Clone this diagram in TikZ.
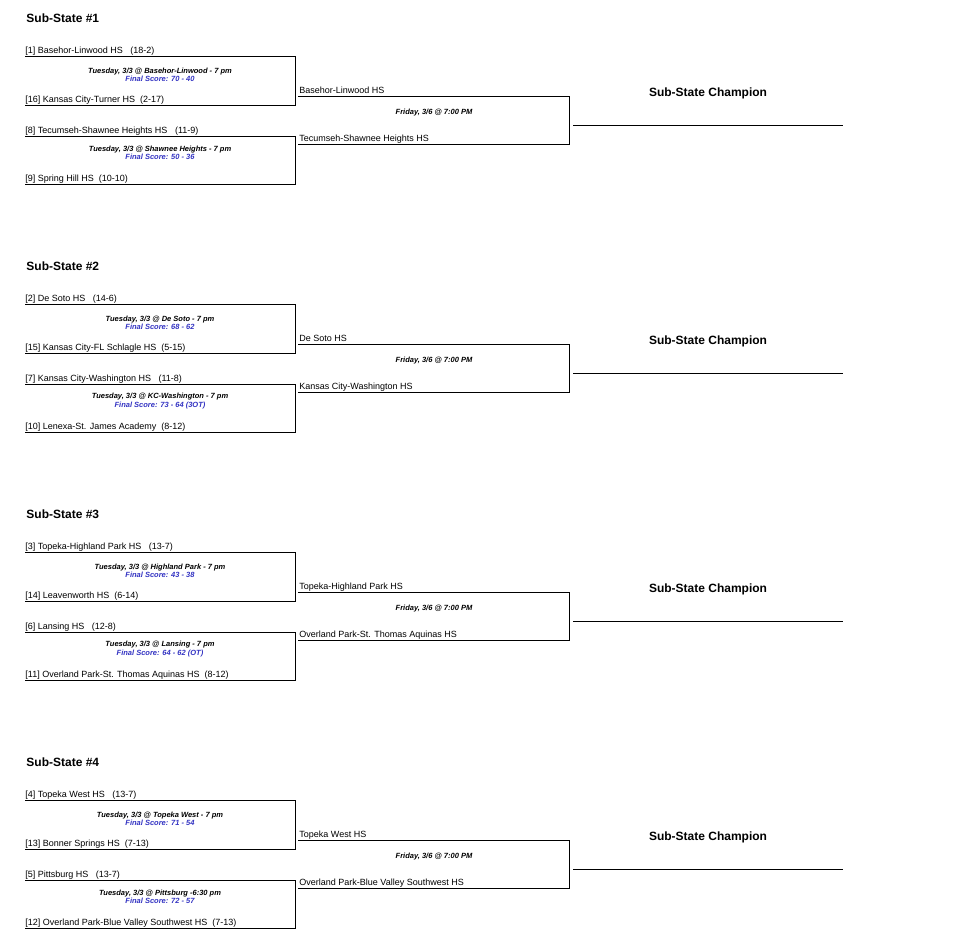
\documentclass[tikz,border=0pt]{standalone}
\usepackage{fontspec}
\setmainfont{Liberation Sans}
\begin{document}
\begin{tikzpicture}[x=1pt,y=-1pt,line width=0.9pt,
  team/.style={anchor=base west,inner sep=0pt,font=\fontsize{9}{10}\selectfont},
  ttl/.style={anchor=base west,inner sep=0pt,font=\bfseries\fontsize{12}{14}\selectfont},
  champ/.style={inner sep=0pt,font=\bfseries\fontsize{12}{14}\selectfont},
  game/.style={inner sep=0pt,align=center,font=\bfseries\itshape\fontsize{7.5}{10}\selectfont},
  scorec/.style={text=blue!75!black!90!white}]
\useasboundingbox (0,0) rectangle (958,932);
\foreach \k/\T/\a/\b/\c/\d/\ga/\sa/\gb/\sb/\wa/\wb in {
 0/{Sub-State \#1}/{[1] Basehor-Linwood HS \ \ (18-2)}/{[16] Kansas City-Turner HS \ (2-17)}/{[8] Tecumseh-Shawnee Heights HS \ \ (11-9)}/{[9] Spring Hill HS \ (10-10)}/{Tuesday, 3/3 @ Basehor-Linwood - 7 pm}/{Final Score: 70 - 40}/{Tuesday, 3/3 @ Shawnee Heights - 7 pm}/{Final Score: 50 - 36}/{Basehor-Linwood HS}/{Tecumseh-Shawnee Heights HS},
 1/{Sub-State \#2}/{[2] De Soto HS \ \ (14-6)}/{[15] Kansas City-FL Schlagle HS \ (5-15)}/{[7] Kansas City-Washington HS \ \ (11-8)}/{[10] Lenexa-St. James Academy \ (8-12)}/{Tuesday, 3/3 @ De Soto - 7 pm}/{Final Score: 68 - 62}/{Tuesday, 3/3 @ KC-Washington - 7 pm}/{Final Score: 73 - 64 (3OT)}/{De Soto HS}/{Kansas City-Washington HS},
 2/{Sub-State \#3}/{[3] Topeka-Highland Park HS \ \ (13-7)}/{[14] Leavenworth HS \ (6-14)}/{[6] Lansing HS \ \ (12-8)}/{[11] Overland Park-St. Thomas Aquinas HS \ (8-12)}/{Tuesday, 3/3 @ Highland Park - 7 pm}/{Final Score: 43 - 38}/{Tuesday, 3/3 @ Lansing - 7 pm}/{Final Score: 64 - 62 (OT)}/{Topeka-Highland Park HS}/{Overland Park-St. Thomas Aquinas HS},
 3/{Sub-State \#4}/{[4] Topeka West HS \ \ (13-7)}/{[13] Bonner Springs HS \ (7-13)}/{[5] Pittsburg HS \ \ (13-7)}/{[12] Overland Park-Blue Valley Southwest HS \ (7-13)}/{Tuesday, 3/3 @ Topeka West - 7 pm}/{Final Score: 71 - 54}/{Tuesday, 3/3 @ Pittsburg -6:30 pm}/{Final Score: 72 - 57}/{Topeka West HS}/{Overland Park-Blue Valley Southwest HS}}
{
\begin{scope}[yshift=-\k*248pt]
 \node[ttl] (title\k) at (26,22) {\T};
 \coordinate (a\k) at (25,56); \coordinate (ar\k) at (295,56);
 \coordinate (b\k) at (25,105); \coordinate (br\k) at (295,105);
 \coordinate (c\k) at (25,136); \coordinate (cr\k) at (295,136);
 \coordinate (d\k) at (25,184); \coordinate (dr\k) at (295,184);
 \node[team] (ta\k) at (25,53) {\a};
 \node[team] (tb\k) at (25,102) {\b};
 \node[team] (tc\k) at (25,133) {\c};
 \node[team] (td\k) at (25,181) {\d};
 \draw (a\k) -- (ar\k) -- (br\k) -- (b\k);
 \draw (c\k) -- (cr\k) -- (dr\k) -- (d\k);
 \node[game] (ga\k) at (160,75) {\ga\\[-1.5pt]{\color{blue!70!black!80!white}\sa}};
 \node[game] (gb\k) at (160,153) {\gb\\[-1.5pt]{\color{blue!70!black!80!white}\sb}};
 \coordinate (e\k) at (298,96); \coordinate (er\k) at (569,96);
 \coordinate (f\k) at (298,144); \coordinate (fr\k) at (569,144);
 \node[team] (wa\k) at (299,93) {\wa};
 \node[team] (wb\k) at (299,141) {\wb};
 \draw (e\k) -- (er\k) -- (fr\k) -- (f\k);
 \node[game] (fri\k) at (434,113) {Friday, 3/6 @ 7:00 PM};
 \coordinate (g\k) at (573,125); \coordinate (gr\k) at (843,125);
 \draw (g\k) -- (gr\k);
 \node[champ] (ch\k) at (708,93) {Sub-State Champion};
\end{scope}
}
\end{tikzpicture}
\end{document}
